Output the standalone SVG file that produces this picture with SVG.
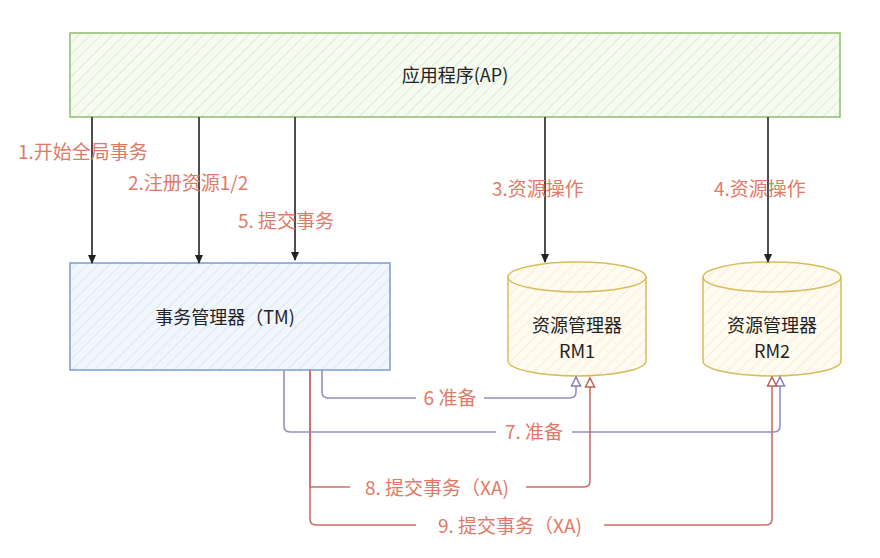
<svg xmlns="http://www.w3.org/2000/svg" width="880" height="558" viewBox="0 0 880 558">
<defs>
<pattern id="hg" width="8" height="8" patternUnits="userSpaceOnUse" patternTransform="rotate(45)"><rect width="8" height="8" fill="#f6fbf1"/><line x1="0" y1="0" x2="0" y2="8" stroke="#d5e8c4" stroke-width="1.5"/></pattern>
<pattern id="hb" width="8" height="8" patternUnits="userSpaceOnUse" patternTransform="rotate(45)"><rect width="8" height="8" fill="#f1f6fd"/><line x1="0" y1="0" x2="0" y2="8" stroke="#d6e3f6" stroke-width="1.5"/></pattern>
<pattern id="hy" width="8" height="8" patternUnits="userSpaceOnUse" patternTransform="rotate(45)"><rect width="8" height="8" fill="#fffbf0"/><line x1="0" y1="0" x2="0" y2="8" stroke="#f6ead0" stroke-width="1.5"/></pattern>
<marker id="ab" markerWidth="10" markerHeight="10" refX="8" refY="5" orient="auto" markerUnits="userSpaceOnUse"><path d="M0,1 L9,5 L0,9 Z" fill="#222"/></marker>
<marker id="ap" markerWidth="12" markerHeight="12" refX="10" refY="6" orient="auto" markerUnits="userSpaceOnUse"><path d="M1,1.5 L10,6 L1,10.5 Z" fill="#fff" stroke="#8a7bb8" stroke-width="1.5"/></marker>
<marker id="ar" markerWidth="12" markerHeight="12" refX="10" refY="6" orient="auto" markerUnits="userSpaceOnUse"><path d="M1,1.5 L10,6 L1,10.5 Z" fill="#fff" stroke="#c0605a" stroke-width="1.5"/></marker>
</defs>
<style>
text{font-family:"Noto Sans CJK SC","Liberation Sans",sans-serif;}
.n{font-size:18px;fill:#222;text-anchor:middle;}
.l{font-size:19px;fill:#e07a66;}
.lc{font-size:19px;fill:#e07a66;text-anchor:middle;}
.k{stroke:#222;stroke-width:1.6;fill:none;marker-end:url(#ab);}
.p{stroke:#9a8cc4;stroke-width:1.6;fill:none;marker-end:url(#ap);}
.r{stroke:#c8706a;stroke-width:1.6;fill:none;marker-end:url(#ar);}
.bg{fill:#fff;}
</style>
<rect width="880" height="558" fill="#fff"/>
<g id="AP"><rect x="70" y="33" width="770" height="84" fill="url(#hg)" stroke="#8fbc6e" stroke-width="1.5"/><text class="n" x="455" y="82">应用程序(AP)</text></g>
<g id="TM"><rect x="70" y="263" width="320" height="107" fill="url(#hb)" stroke="#7a9cd0" stroke-width="1.5"/><text class="n" x="225" y="324">事务管理器（TM)</text></g>
<g id="RM1"><path d="M508,277 A69,15 0 0 1 646,277 L646,361 A69,15 0 0 1 508,361 Z" fill="url(#hy)" stroke="#d8bc5c" stroke-width="1.5"/><path d="M508,277 A69,15 0 0 0 646,277" fill="none" stroke="#d8bc5c" stroke-width="1.5"/><text class="n" x="577" y="332">资源管理器</text><text class="n" x="577" y="358">RM1</text></g>
<g id="RM2"><path d="M703,277 A69,15 0 0 1 841,277 L841,361 A69,15 0 0 1 703,361 Z" fill="url(#hy)" stroke="#d8bc5c" stroke-width="1.5"/><path d="M703,277 A69,15 0 0 0 841,277" fill="none" stroke="#d8bc5c" stroke-width="1.5"/><text class="n" x="772" y="332">资源管理器</text><text class="n" x="772" y="358">RM2</text></g>
<g id="connectors">
<path class="k" d="M92,117 V263"/>
<path class="k" d="M199,117 V263"/>
<path class="k" d="M295,117 V260"/>
<path class="k" d="M545,117 V262"/>
<path class="k" d="M768,117 V262"/>
<path class="p" d="M322,370 V392 Q322,398 328,398 H570 Q576,398 576,392 V377"/>
<path class="p" d="M284,370 V426 Q284,432 290,432 H774 Q780,432 780,426 V377"/>
<path class="r" d="M310,370 V487 H584 Q590,487 590,481 V378"/>
<path class="r" d="M310,370 V519 Q310,525 316,525 H766 Q772,525 772,519 V377"/>
<rect class="bg" x="416" y="386" width="68" height="24"/>
<text class="lc" x="450" y="405">6 准备</text>
<rect class="bg" x="496" y="420" width="76" height="24"/>
<text class="lc" x="534" y="439">7. 准备</text>
<rect class="bg" x="350" y="475" width="176" height="26"/>
<text class="lc" x="437" y="495">8. 提交事务（XA)</text>
<rect class="bg" x="416" y="513" width="188" height="26"/>
<text class="lc" x="510" y="533">9. 提交事务（XA)</text>
<text class="l" x="18" y="159">1.开始全局事务</text>
<text class="l" x="128" y="190">2.注册资源1/2</text>
<text class="l" x="238" y="228">5. 提交事务</text>
<text class="l" x="492" y="196">3.资源操作</text>
<text class="l" x="714" y="196">4.资源操作</text>
</g>
</svg>
